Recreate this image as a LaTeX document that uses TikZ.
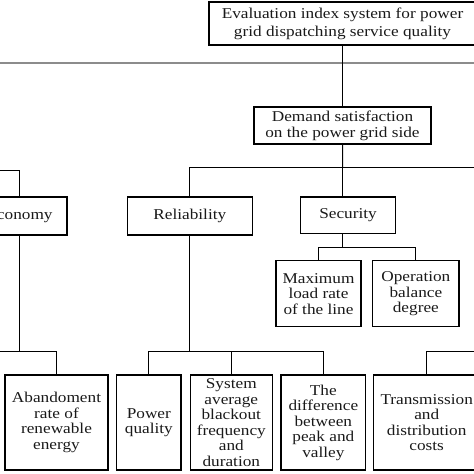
\documentclass[tikz,border=0pt]{standalone}
\usepackage{fontspec}
\setmainfont{Liberation Serif}[FakeStretch=1.15]
\begin{document}
\begin{tikzpicture}[x=1pt,y=-1pt,
  box/.style={draw, line width=1.3pt, inner sep=0pt, align=center, text=black!90,
    font=\fontsize{15}{15.5}\selectfont},
  conn/.style={line width=1pt},
  bus/.style={line width=1.3pt, draw=black!45}]
\useasboundingbox (0,0) rectangle (474,474);
\clip (0,0) rectangle (474,474);
% nodes
\node[box, minimum width=267pt, minimum height=43pt, font=\fontsize{15}{18}\selectfont] (top) at (342.5,23.5)
  {Evaluation index system for power\\grid dispatching service quality};
\node[box, minimum width=177pt, minimum height=37pt, font=\fontsize{15}{16}\selectfont] (demand) at (342.5,125.5)
  {Demand satisfaction\\on the power grid side};
\node[box, minimum width=95pt, minimum height=38pt] (economy) at (19.5,216) {Economy};
\node[box, minimum width=125pt, minimum height=38pt] (reliability) at (189.8,216) {Reliability};
\node[box, minimum width=95.4pt, minimum height=36.3pt] (security) at (348,215.2) {Security};
\node[box, minimum width=85pt, minimum height=66pt] (maxload) at (318.5,293.7) {Maximum\\load rate\\of the line};
\node[box, minimum width=86.3pt, minimum height=66pt] (operation) at (415.85,293.7) {Operation\\balance\\degree};
\node[box, minimum width=103pt, minimum height=95pt] (abandon) at (56.5,422.5) {Abandoment\\rate of\\renewable\\energy};
\node[box, minimum width=64.3pt, minimum height=95pt] (power) at (148.85,422.5) {Power\\quality};
\node[box, minimum width=82pt, minimum height=95pt] (system) at (231.3,422.5) {System\\average\\blackout\\frequency\\and\\duration};
\node[box, minimum width=84.7pt, minimum height=95pt] (diff) at (323.35,422.5) {The\\difference\\between\\peak and\\valley};
\node[box, minimum width=106.7pt, minimum height=95pt] (trans) at (426.7,422.5) {Transmission\\and\\distribution\\costs};
% coordinates
\coordinate (busL) at (-5,63);
\coordinate (busR) at (480,63);
\coordinate (j1) at (342.7,167.3);
\coordinate (j1R) at (480,167.3);
\coordinate (eL) at (-5,170);
\coordinate (j2) at (342.7,247.3);
\coordinate (j3) at (19.5,351.7);
\coordinate (j3L) at (-5,351.7);
\coordinate (j4) at (189.8,351.7);
\coordinate (tR) at (480,351.7);
% connectors
\draw[bus] (busL) -- (busR);
\draw[conn] (top.south) -- (demand.north);
\draw[conn] (demand.south) -- (j1);
\draw[conn] (reliability.north) |- (j1) -- (j1R);
\draw[conn] (j1) -- (j1 |- security.north);
\draw[conn] (economy.north) |- (eL);
\draw[conn] (j1 |- security.south) -- (j2);
\draw[conn] (maxload.north) |- (j2) -| (operation.north);
\draw[conn] (economy.south) -- (j3);
\draw[conn] (j3L) -| (abandon.north);
\draw[conn] (reliability.south) -- (j4);
\draw[conn] (power.north) |- (j4) -| (diff.north);
\draw[conn] (system.north) -- (system.north |- j4);
\draw[conn] (trans.north) |- (tR);
\end{tikzpicture}
\end{document}
